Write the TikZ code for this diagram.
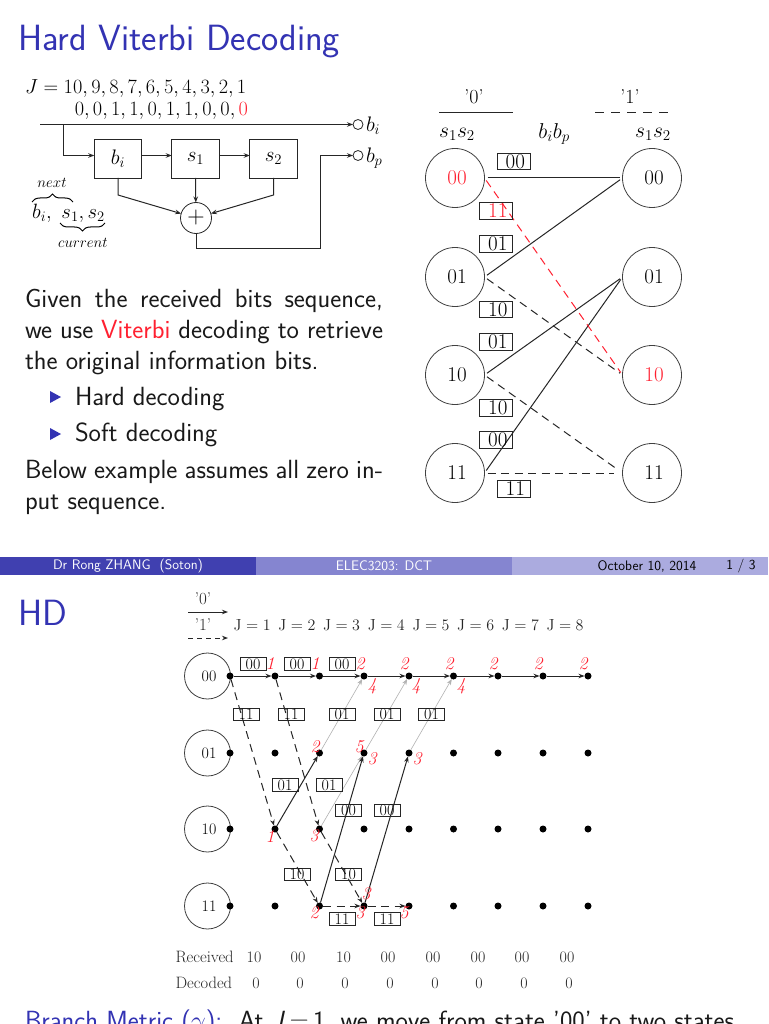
\documentclass[tikz,border=0pt]{standalone}
\usepackage{fix-cm}
\usetikzlibrary{arrows.meta,decorations.pathreplacing}
\definecolor{ttl}{HTML}{3333B3}
\definecolor{fa}{HTML}{4040B0}
\definecolor{fb}{HTML}{8585D0}
\definecolor{fc}{HTML}{ABABDF}
\definecolor{redn}{HTML}{FF2030}
\newcommand{\fs}[1]{\fontsize{#1}{#1}\selectfont}
\tikzset{
  every node/.style={inner sep=0pt,outer sep=0pt},
  >={Stealth[length=6pt,width=4.5pt]},
  wire/.style={line width=1pt,black!85},
  dwire/.style={wire,dash pattern=on 8pt off 5.5pt},
  gwire/.style={line width=.6pt,black!30},
  regbox/.style={draw=black!85,line width=.8pt,minimum width=47.5pt,minimum height=39pt,font=\fs{21}},
  port/.style={circle,draw=black!85,line width=.8pt,minimum size=10pt},
  stt/.style={circle,draw=black!75,line width=.8pt,minimum size=59pt,font=\fs{21}},
  tst/.style={circle,draw=black!75,line width=.8pt,minimum size=46pt,font=\fs{16}},
  lab/.style={draw=black!85,line width=.8pt,minimum width=33pt,minimum height=16.5pt,font=\fs{21}},
  tlab/.style={draw=black!85,line width=.8pt,minimum width=26pt,minimum height=12.5pt,font=\fs{16}},
  tdot/.style={circle,fill=black,minimum size=7pt},
  rnum/.style={text=redn,font=\fs{18}\itshape},
  body/.style={anchor=base west,font=\sffamily\fs{26.3},text=black!90},
  foot/.style={font=\sffamily\fs{13.8}},
  ttext/.style={font=\fs{16},text=black!85},
}
\begin{document}
\begin{tikzpicture}[x=1pt,y=-1pt]
\useasboundingbox (0,0) rectangle (768,1024);
\clip (0,0) rectangle (768,1024);
\fill[white] (0,0) rectangle (768,1024);

% titles
\node[anchor=base west,text=ttl,font=\sffamily\fs{36.5}] (t1) at (18,51) {Hard Viterbi Decoding};
\node[anchor=base west,text=ttl,font=\sffamily\fs{36.5}] (t2) at (18,625) {HD};

% encoder
\node[anchor=base west,font=\fs{20.3}] (js) at (25,94) {$J=10,9,8,7,6,5,4,3,2,1$};
\node[anchor=base east,font=\fs{20.3}] (bs) at (248,116) {$0,0,1,1,0,1,1,0,0,\textcolor{redn}{0}$};
\coordinate (in) at (40,124.5);
\coordinate (tap) at (63,124.5);
\node[regbox] (rb) at (118,158.5) {$b_i$};
\node[regbox] (r1) at (195.5,158.5) {$s_1$};
\node[regbox] (r2) at (273.5,158.5) {$s_2$};
\node[circle,draw=black!85,line width=.8pt,minimum size=31pt,font=\fs{24}] (add) at (196,218) {$+$};
\node[port] (pi) at (358,124.5) {};
\node[port] (pp) at (358,155.5) {};
\node[anchor=west,font=\fs{21}] (li) at (366,126) {$b_i$};
\node[anchor=west,font=\fs{21}] (lp) at (366,158) {$b_p$};
\draw[wire,->] (in) -- (pi);
\draw[wire,->] (tap) |- (rb.west |- 0,155.5);
\draw[wire,->] (rb.east |- 0,155.5) -- (r1.west |- 0,155.5);
\draw[wire,->] (r1.east |- 0,155.5) -- (r2.west |- 0,155.5);
\draw[wire,->] (rb.south) -- ++(0,17) -- (add);
\draw[wire,->] (r1.south) -- (add);
\draw[wire,->] (r2.south) -- ++(0,17) -- (add);
\draw[wire,->] (add.south) |- (320,248) |- (pp);
\node[font=\fs{20.7}] (st) at (68.5,213) {$b_i,\ s_1,s_2$};
\node[font=\fs{15}] (nx) at (52,183) {$next$};
\node[font=\fs{15}] (cu) at (83,243) {$current$};
\coordinate (bra) at (32,202);
\coordinate (brb) at (73,202);
\coordinate (brc) at (105,223);
\coordinate (brd) at (60,223);
\draw[line width=1pt,decorate,decoration={brace,amplitude=8pt}] (bra) -- (brb);
\draw[line width=1pt,decorate,decoration={brace,amplitude=8pt}] (brc) -- (brd);

% body text slide 1
\node[body] (b1) at (25,307) {\makebox[358pt][s]{Given the received bits sequence,}};
\node[body] (b2) at (25,338) {\makebox[358pt][s]{we use \textcolor{redn}{Viterbi} decoding to retrieve}};
\node[body] (b3) at (25,369) {the original information bits.};
\fill[ttl] (50,391) -- (61,397) -- (50,403) -- cycle;
\node[body] (b4) at (75,405) {Hard decoding};
\fill[ttl] (50,428) -- (61,434) -- (50,440) -- cycle;
\node[body] (b5) at (75,441) {Soft decoding};
\node[body] (b6) at (25,478) {\makebox[358pt][s]{Below example assumes all zero in-}};
\node[body] (b7) at (25,509) {put sequence.};

% state diagram
\node[font=\fs{20}] (h0) at (474,97) {'0'};
\node[font=\fs{20}] (h1) at (630,97) {'1'};
\coordinate (ka) at (439,113); \coordinate (kb) at (513,113);
\coordinate (kc) at (595,113); \coordinate (kd) at (669,113);
\draw[wire] (ka) -- (kb);
\draw[wire,dash pattern=on 9pt off 7pt] (kc) -- (kd);
\node[font=\fs{21.5}] (s1) at (457,134) {$s_1s_2$};
\node[font=\fs{21.5}] (s2) at (554,134) {$b_ib_p$};
\node[font=\fs{21.5}] (s3) at (653,134) {$s_1s_2$};
\node[stt,text=redn] (L0) at (455,178) {\hspace*{4pt}00};
\node[stt] (L1) at (455,277) {\hspace*{4pt}01};
\node[stt] (L2) at (455,375) {\hspace*{4pt}10};
\node[stt] (L3) at (455,473) {\hspace*{4pt}11};
\node[stt] (R0) at (652,178) {\hspace*{4pt}00};
\node[stt] (R1) at (652,277) {\hspace*{4pt}01};
\node[stt,text=redn] (R2) at (652,375) {\hspace*{4pt}10};
\node[stt] (R3) at (652,473) {\hspace*{4pt}11};
\tikzset{sh/.style={shorten <=3pt,shorten >=3pt},shl/.style={shorten <=3pt,shorten >=9pt}}
\draw[wire,sh] (L0.east) -- (R0.west);
\draw[wire,sh] (L1.east) -- (R0.west);
\draw[wire,sh] (L2.east) -- (R1.west);
\draw[wire,sh] (L3.east) -- (R1.west);
\draw[dwire,sh] (L1.east) -- (R2.west);
\draw[dwire,sh,redn] (L0.east) -- (R2.west);
\draw[dwire,shl] (L2.east) -- (R3.west);
\draw[dwire,shl] (L3.east) -- (R3.west);
\node[lab] (a1) at (513.5,161.5) {\,00};
\node[lab,text=redn] (a2) at (496,211) {\,11};
\node[lab] (a3) at (496,244) {\,01};
\node[lab] (a4) at (496,309.5) {\,10};
\node[lab] (a5) at (496,342) {\,01};
\node[lab] (a6) at (496,408) {\,10};
\node[lab] (a7) at (496,440) {\,00};
\node[lab] (a8) at (513.5,489) {\,11};

% footer
\fill[fa] (0,557) rectangle (256,575);
\fill[fb] (256,557) rectangle (512,575);
\fill[fc] (512,557) rectangle (768,575);
\node[foot,text=white] (f1) at (128,566) {Dr Rong ZHANG\ \ (Soton)};
\node[foot,text=white] (f2) at (384,566) {ELEC3203: DCT};
\node[foot,text=black] (f3) at (647,566) {October 10, 2014};
\node[foot,text=black] (f4) at (741,566) {1 / 3};

% trellis legend
\node[font=\fs{17},text=black!85] (q0) at (203,599) {'0'};
\node[font=\fs{17},text=black!85] (q1) at (203,625) {'1'};
\coordinate (qa) at (188,612); \coordinate (qb) at (228,612);
\coordinate (qc) at (188,638); \coordinate (qd) at (228,638);
\draw[wire,->] (qa) -- (qb);
\draw[wire,->,dash pattern=on 5pt off 4pt] (qc) -- (qd);
\foreach \k in {1,...,8}
  \node[ttext,anchor=base] (jj\k) at ({207.5+44.7*\k},630) {$\mathrm{J}=\k$};

% trellis states
\node[tst] (T0) at (207.5,676) {\hspace*{3pt}00};
\node[tst] (T1) at (207.5,753) {\hspace*{3pt}01};
\node[tst] (T2) at (207.5,829) {\hspace*{3pt}10};
\node[tst] (T3) at (207.5,906) {\hspace*{3pt}11};
\foreach \c/\x in {0/230,1/275,2/319.5,3/364,4/409,5/453.5,6/498,7/543,8/588}
  \foreach \r/\y in {0/676,1/753,2/829,3/906}
    \node[tdot] (d\c\r) at (\x,\y) {};
% grey survivors
\draw[gwire,->] (d21) -- (d30);
\draw[gwire,->] (d31) -- (d40);
\draw[gwire,->] (d41) -- (d50);
\draw[gwire,->] (d22) -- (d31);
% solid
\foreach \a/\b in {0/1,1/2,2/3,3/4,4/5,5/6,6/7,7/8}
  \draw[wire,->] (d\a0) -- (d\b0);
\draw[wire,->] (d12) -- (d21);
\draw[wire,->] (d23) -- (d31);
\draw[wire,->] (d33) -- (d41);
% dashed
\draw[dwire,->] (d00) -- (d12);
\draw[dwire,->] (d10) -- (d22);
\draw[dwire,->] (d12) -- (d23);
\draw[dwire,->] (d22) -- (d33);
\draw[dwire,->] (d23) -- (d33);
\draw[dwire,->] (d33) -- (d43);
% trellis labels
\foreach \n/\x/\y/\t in {
  1/253/664/00,2/297/664/00,3/342/664/00,
  4/246/714.5/11,5/291/714.5/11,6/342/714.5/01,7/387/714.5/01,8/431.5/714.5/01,
  9/285/785/01,10/329/785/01,11/348.5/810.5/00,12/387/810.5/00,
  13/297/874.5/10,14/348.5/874.5/10,15/342/919/11,16/387/919/11}
  \node[tlab] (u\n) at (\x,\y) {\t};
% metrics
\foreach \n/\x/\y/\t in {
  1/270/664/1,2/315/664/1,3/360/664/2,4/404/664/2,5/449/664/2,6/493/664/2,7/538/664/2,8/583/664/2,
  9/372/686/4,10/416/686/4,11/461/686/4,
  12/315/747/2,13/359/747/5,14/372/759/3,15/417/759/3,
  16/270/837/1,17/314/836/3,
  18/314/913/2,19/366/894/3,20/360/913/3,21/404/913/5}
  \node[rnum] (m\n) at (\x,\y) {\t};

% received / decoded
\node[font=\fs{16.5},text=black!85,anchor=base west] (rr) at (175.5,962) {Received};
\node[font=\fs{16.5},text=black!85,anchor=base west] (dd) at (175.5,988) {Decoded};
\foreach \n/\x/\t in {1/254/10,2/298/00,3/343.5/10,4/388/00,5/433/00,6/478/00,7/522/00,8/567/00}
  \node[ttext,anchor=base] (rc\n) at (\x,962) {\t};
\foreach \n/\x in {1/256,2/300,3/345,4/390,5/435,6/479,7/524,8/569}
  \node[ttext,anchor=base] (dc\n) at (\x,988) {0};

% last line
\node[body] (last) at (25,1029) {\textcolor{ttl}{Branch Metric ($\gamma$):}\ \ At \textit{J}\,=\,1, we move from state '00' to two states};
\end{tikzpicture}
\end{document}
